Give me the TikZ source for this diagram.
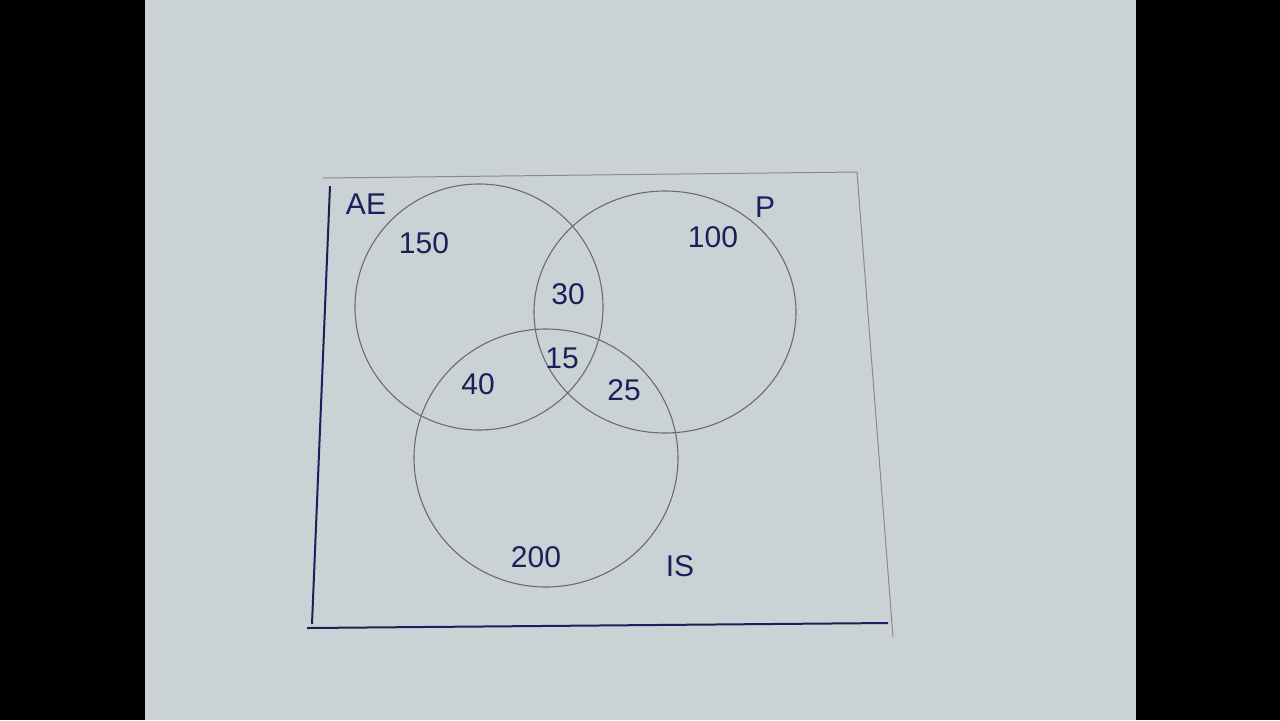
\documentclass[tikz,border=0pt]{standalone}
\usepackage{fontspec}
\setmainfont{Liberation Sans}
\begin{document}
\begin{tikzpicture}[x=0.5pt,y=-0.5pt,
  lbl/.style={text=ink,font=\fontsize{15}{18}\selectfont,inner sep=0pt},
  ring/.style={draw=ringgray,line width=0.55pt},
  penline/.style={draw=ink,line width=1pt},
  thinline/.style={draw=ringgray!80,line width=0.5pt}]
\definecolor{ink}{RGB}{30,30,90}
\definecolor{ringgray}{RGB}{105,108,112}
\definecolor{paper}{RGB}{203,210,214}
\useasboundingbox (0,0) rectangle (1280,720);
\fill[black] (0,0) rectangle (1280,720);
\fill[paper] (145,0) rectangle (1136,720);
% frame
\coordinate (tl) at (323,178);
\coordinate (tr) at (857,172);
\coordinate (br) at (893,637);
\coordinate (bl0) at (307,628);
\coordinate (bl1) at (888,623);
\coordinate (lt) at (330,186);
\coordinate (lb) at (312,624);
\draw[thinline] (tl) -- (tr) -- (br);
\draw[penline] (lt) -- (lb);
\draw[penline] (bl0) -- (bl1);
% circles
\draw[ring] (479,307) ellipse [x radius=124, y radius=123];
\draw[ring] (665,312) ellipse [x radius=131, y radius=121];
\draw[ring] (546,458) ellipse [x radius=132, y radius=129];
% labels
\node[lbl] (ae) at (366,204) {AE};
\node[lbl] (p) at (765,207) {P};
\node[lbl] (is) at (680,566) {IS};
\node[lbl] (n150) at (424,243) {150};
\node[lbl] (n100) at (713,237) {100};
\node[lbl] (n30) at (568,294) {30};
\node[lbl] (n15) at (562,358) {15};
\node[lbl] (n40) at (478,384) {40};
\node[lbl] (n25) at (624,390) {25};
\node[lbl] (n200) at (536,557) {200};
\end{tikzpicture}
\end{document}
